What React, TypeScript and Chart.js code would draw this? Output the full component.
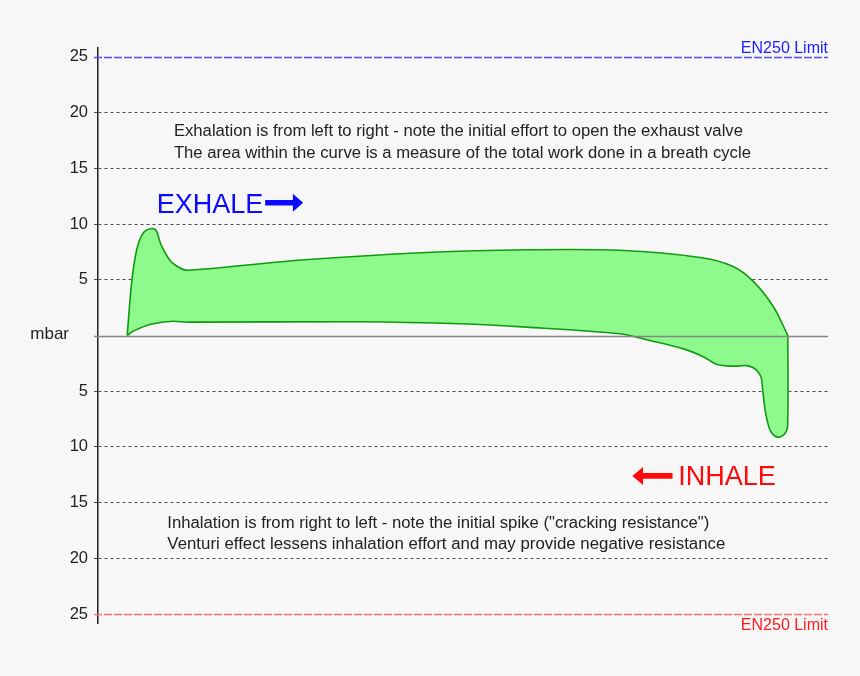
import React, { useEffect, useRef } from "react";
import { Chart, registerables } from "chart.js";

Chart.register(...registerables);

// exhale branch, left to right (x = breath volume %, y = mbar)
const exhaleVolume = [4.0, 4.6, 5.3, 6.2, 7.35, 8.0, 8.6, 9.9, 11.0, 12.2, 27.4, 45.0, 58.7, 71.5, 82.5, 87.0, 89.7, 92.5, 94.5];
const exhalePressure = [0, 4.7, 7.7, 9.2, 9.6, 9.4, 8.2, 6.7, 6.15, 5.85, 6.75, 7.45, 7.7, 7.65, 7.0, 6.2, 4.9, 2.6, 0];

// inhale branch, right to left
const inhaleVolume = [94.5, 94.47, 94.11, 93.42, 92.74, 92.15, 91.74, 91.37, 91.05, 90.86, 90.45, 89.77, 88.86, 87.0, 84.8, 82.9, 80.2, 75.6, 71.5, 58.7, 49.6, 35.9, 12.2, 10.3, 7.1, 4.84, 4.0];
const inhalePressure = [0, -8.14, -8.8, -9.1, -9.04, -8.6, -7.84, -6.64, -4.85, -3.8, -3.29, -2.9, -2.7, -2.75, -2.6, -1.9, -1.2, -0.45, 0.15, 0.75, 1.05, 1.23, 1.2, 1.28, 0.99, 0.39, 0];

const yTicks = [-25, -20, -15, -10, -5, 0, 5, 10, 15, 20, 25];
const limit = 25;
const limitLabel = "EN250 Limit";
const exhaleNotes = [
  "Exhalation is from left to right - note the initial effort to open the exhaust valve",
  "The area within the curve is a measure of the total work done in a breath cycle",
];
const inhaleNotes = [
  "Inhalation is from right to left - note the initial spike (\"cracking resistance\")",
  "Venturi effect lessens inhalation effort and may provide negative resistance",
];

const FONT = "'Liberation Sans', Arial, sans-serif";

const loop = [
  ...exhaleVolume.map((x, i) => ({ x, y: exhalePressure[i] })),
  ...inhaleVolume.map((x, i) => ({ x, y: inhalePressure[i] })),
];

const isSpecial = (v: number | undefined) => v === 0 || v === limit || v === -limit;

const overlay = {
  id: "overlay",
  afterDraw(chart: any) {
    const { ctx, chartArea, scales } = chart;
    const x = scales.x;
    const y = scales.y;
    const left = chartArea.left - 4;
    const right = chartArea.right;

    const hline = (v: number, color: string, width: number, dash: number[]) => {
      const py = Math.round(y.getPixelForValue(v)) + 0.5;
      ctx.save();
      ctx.strokeStyle = color;
      ctx.lineWidth = width;
      ctx.setLineDash(dash);
      ctx.beginPath();
      ctx.moveTo(left, py);
      ctx.lineTo(right, py);
      ctx.stroke();
      ctx.restore();
    };
    hline(0, "#858585", 1.5, []);
    hline(limit, "#4c4cff", 1.4, [8, 2]);
    hline(-limit, "#ff6e6e", 1.4, [8, 2]);

    const text = (s: string, px: number, py: number, font: string, color: string, align = "left", base = "alphabetic") => {
      ctx.save();
      ctx.font = font;
      ctx.fillStyle = color;
      ctx.textAlign = align;
      ctx.textBaseline = base;
      ctx.fillText(s, px, py);
      ctx.restore();
    };
    const fitText = (s: string, vx: number, vy: number, width: number) => {
      ctx.save();
      ctx.font = `16px ${FONT}`;
      ctx.fillStyle = "#222";
      ctx.textBaseline = "alphabetic";
      const w = ctx.measureText(s).width;
      ctx.translate(x.getPixelForValue(vx), y.getPixelForValue(vy));
      ctx.scale(width / w, 1);
      ctx.fillText(s, 0, 0);
      ctx.restore();
    };

    text(limitLabel, right, y.getPixelForValue(limit) - 4, `16px ${FONT}`, "#1c1cff", "right");
    text(limitLabel, right, y.getPixelForValue(-limit) + 16, `16px ${FONT}`, "#ff1c1c", "right");
    text("mbar", 69, y.getPixelForValue(0) - 1, `17px ${FONT}`, "#222", "right", "middle");

    fitText(exhaleNotes[0], 10.4, 17.89, 569);
    fitText(exhaleNotes[1], 10.4, 15.95, 577);
    fitText(inhaleNotes[0], 9.5, -17.26, 542);
    fitText(inhaleNotes[1], 9.5, -19.15, 558);

    text("EXHALE", x.getPixelForValue(8.05), y.getPixelForValue(11.01), `27px ${FONT}`, "#0a0aff");
    text("INHALE", x.getPixelForValue(79.5), y.getPixelForValue(-13.46), `27px ${FONT}`, "#ff0a0a");

    const arrow = (tail: number, base: number, tip: number, vy: number, color: string) => {
      const py = y.getPixelForValue(vy);
      const t = x.getPixelForValue(tail);
      const b = x.getPixelForValue(base);
      const p = x.getPixelForValue(tip);
      ctx.save();
      ctx.fillStyle = color;
      ctx.beginPath();
      ctx.moveTo(t, py - 2.8);
      ctx.lineTo(b, py - 2.8);
      ctx.lineTo(b, py - 9);
      ctx.lineTo(p, py);
      ctx.lineTo(b, py + 9);
      ctx.lineTo(b, py + 2.8);
      ctx.lineTo(t, py + 2.8);
      ctx.closePath();
      ctx.fill();
      ctx.restore();
    };
    arrow(22.9, 26.7, 28.1, 11.91, "#0a0aff");
    arrow(78.7, 74.66, 73.2, -12.6, "#ff0a0a");
  },
};

const App = () => {
  const canvasRef = useRef<HTMLCanvasElement>(null);

  useEffect(() => {
    document.body.style.margin = "0";
    document.body.style.background = "#f7f7f7";
    if (!canvasRef.current) return;

    const chart = new Chart(canvasRef.current, {
      type: "line",
      data: {
        datasets: [
          {
            data: loop,
            borderColor: "#129912",
            borderWidth: 1.6,
            backgroundColor: "#8ef98c",
            fill: "shape",
            tension: 0.3,
            pointRadius: 0,
          },
        ],
      },
      options: {
        animation: false,
        responsive: false,
        layout: { padding: { top: 48, right: 32, bottom: 53, left: 0 } },
        plugins: {
          legend: { display: false },
          tooltip: { enabled: false },
        },
        scales: {
          x: { type: "linear", min: 0, max: 100, display: false },
          y: {
            type: "linear",
            min: -25.8,
            max: 25.8,
            z: 1,
            afterBuildTicks: (s: any) => {
              s.ticks = yTicks.map((value) => ({ value }));
            },
            afterFit: (s: any) => {
              s.width = 98;
            },
            ticks: {
              padding: 6,
              color: "#222",
              font: { family: FONT, size: 16.5 },
              callback: (v: any) => (v === 0 ? "" : String(Math.abs(v))),
            },
            grid: {
              color: (c: any) => (isSpecial(c.tick?.value) ? "rgba(0,0,0,0)" : "#4a4a4a"),
              tickColor: (c: any) => (isSpecial(c.tick?.value) ? "rgba(0,0,0,0)" : "#4a4a4a"),
              tickLength: 4,
              lineWidth: 1,
            },
            border: { color: "#222", width: 1.5, dash: [3, 3] },
          },
        },
      },
      plugins: [overlay],
    });

    return () => chart.destroy();
  }, []);

  return (
    <div style={{ width: 860, height: 676, background: "#f7f7f7" }}>
      <canvas ref={canvasRef} width={860} height={676} style={{ display: "block" }} />
    </div>
  );
};

export default App;
